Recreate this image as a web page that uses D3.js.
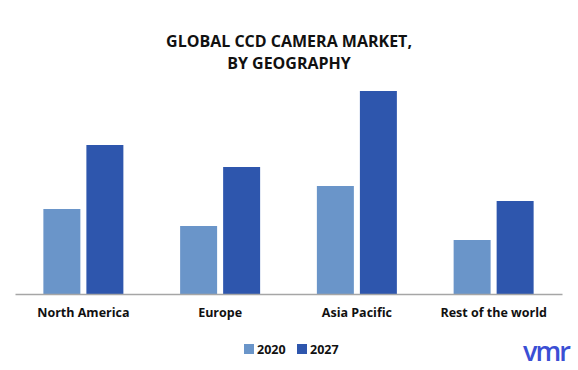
<!DOCTYPE html>
<html>
<head>
<meta charset="utf-8">
<script src="https://cdn.jsdelivr.net/npm/d3@7"></script>
<style>
  body { margin: 0; background: #fff; }
  text { font-family: "Open Sans", "Liberation Sans", sans-serif; }
</style>
</head>
<body>
<svg id="chart" width="578" height="370"></svg>
<script>
const regions = ["North America", "Europe", "Asia Pacific", "Rest of the world"];
const years = ["2020", "2027"];
const values2020 = [0.85, 0.68, 1.08, 0.54];
const values2027 = [1.49, 1.27, 2.03, 0.93];
const colors = ["#6a95c9", "#2e56ad"];

const svg = d3.select("#chart");

// Margins
const margin = ({top: 74, right: 16, bottom: 76, left: 15});
const width = 578, height = 370;

const rows = regions.map((r, i) => ({region: r, vals: [values2020[i], values2027[i]]}));

const x0 = d3.scaleBand()
  .domain(regions)
  .range([margin.left, width - margin.right])
  .paddingInner(0)
  .paddingOuter(0);

const x1 = d3.scaleBand()
  .domain(years)
  .range([x0.bandwidth() / 2 - 40, x0.bandwidth() / 2 + 40])
  .paddingInner(0.14);

const y = d3.scaleLinear()
  .domain([0, 2.2])
  .range([height - margin.bottom, margin.top]);

// title
svg.append("text")
  .attr("x", 289).attr("y", 47)
  .attr("text-anchor", "middle")
  .attr("font-size", 16).attr("font-weight", "bold")
  .attr("fill", "#111")
  .text("GLOBAL CCD CAMERA MARKET,");
svg.append("text")
  .attr("x", 289).attr("y", 69)
  .attr("text-anchor", "middle")
  .attr("font-size", 16).attr("font-weight", "bold")
  .attr("fill", "#111")
  .text("BY GEOGRAPHY");

const group = svg.append("g")
  .selectAll("g")
  .data(rows)
  .join("g")
  .attr("transform", d => `translate(${x0(d.region)},0)`);

group.selectAll("rect")
  .data(d => d.vals.map((v, i) => ({year: years[i], v})))
  .join("rect")
  .attr("x", d => x1(d.year))
  .attr("width", x1.bandwidth())
  .attr("y", d => y(d.v))
  .attr("height", d => y(0) - y(d.v))
  .attr("fill", (d, i) => colors[i]);

// axis
const axis = svg.append("g")
  .attr("transform", `translate(0,${y(0)})`)
  .call(d3.axisBottom(x0).tickSize(0).tickPadding(14));
axis.select(".domain").attr("stroke", "#a6a6a6").attr("stroke-width", 1.3);
axis.selectAll("text")
  .attr("font-size", 12.5).attr("font-weight", "bold")
  .attr("fill", "#111")
  .style("font-family", "'Open Sans', sans-serif");

// legend
const legend = svg.append("g").attr("transform", "translate(244,344)");
const li = legend.selectAll("g").data(years).join("g")
  .attr("transform", (d, i) => `translate(${i * 53},0)`);
li.append("rect").attr("width", 10).attr("height", 10).attr("fill", (d, i) => colors[i]);
li.append("text").attr("x", 13).attr("y", 10)
  .attr("font-size", 12.5).attr("font-weight", "bold").attr("fill", "#111")
  .text(d => d);

// logo
svg.append("text")
  .attr("x", 546).attr("y", 361)
  .attr("text-anchor", "middle")
  .attr("font-size", 27).attr("font-weight", 600)
  .attr("letter-spacing", -2)
  .attr("fill", "#3b4fd4")
  .text("vmr");
</script>
</body>
</html>
